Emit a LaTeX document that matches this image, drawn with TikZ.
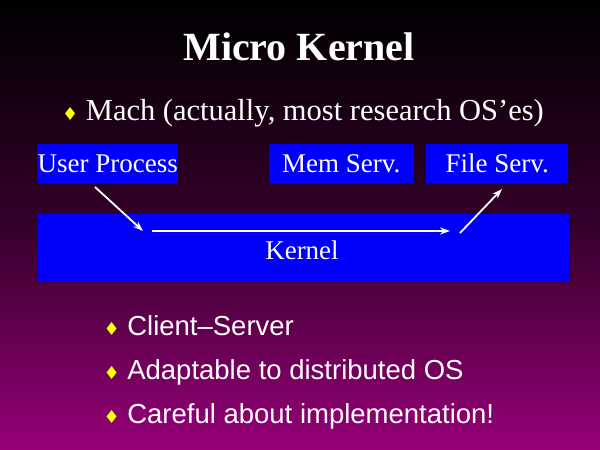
\documentclass[tikz,border=0pt]{standalone}
\usepackage{fontspec}
\setmainfont{Liberation Serif}
\newfontfamily\bsans{Liberation Sans}
\newfontfamily\djvfont{DejaVu Sans}
\usetikzlibrary{arrows.meta}
\definecolor{bxblue}{RGB}{0,0,250}
\definecolor{botpurple}{RGB}{150,0,120}
\definecolor{bulyel}{RGB}{255,255,0}
\tikzset{
 box/.style={fill=bxblue,draw=none,inner sep=0pt,anchor=north west,text=white,font=\fontsize{27}{27}\selectfont},
 arr/.style={draw=white,line width=1.8pt,-{Stealth[length=10pt,width=7pt]}},
 bul/.style={anchor=west,text=white,font=\bsans\fontsize{27.5}{27.5}\selectfont},
}
\newcommand{\dia}{{\color{bulyel}\djvfont\fontsize{18}{18}\selectfont ♦}}
\begin{document}
\begin{tikzpicture}[x=1pt,y=-1pt]
\shade[top color=black,bottom color=botpurple,middle color=black!50!botpurple!70!black] (0,0) rectangle (600,450);
\useasboundingbox (0,0) rectangle (600,450);
\node[text=white,font=\bfseries\fontsize{40}{40}\selectfont] (title) at (299,47) {Micro Kernel};
\node[text=white,font=\fontsize{30.5}{30.5}\selectfont] (mach) at (303,113) {\dia\ Mach (actually, most research OS'es)};
\node[box,minimum width=141,minimum height=39] (up) at (37,144) {User Process};
\node[box,minimum width=144,minimum height=39] (mem) at (269,144) {Mem Serv.};
\node[box,minimum width=142,minimum height=39] (fs) at (426,144) {File Serv.};
\node[box,minimum width=532,minimum height=68] (k) at (37,214) {};
\node[text=white,font=\fontsize{27}{27}\selectfont] (kl) at (302,250) {Kernel};
\coordinate (a0) at (95,187);
\coordinate (a1) at (143,231);
\coordinate (a2) at (152,231);
\coordinate (a3) at (450,231);
\coordinate (a4) at (460,233);
\coordinate (a5) at (502,189);
\draw[arr] (a0) -- (a1);
\draw[arr] (a2) -- (a3);
\draw[arr] (a4) -- (a5);
\node[bul] (b1) at (100,326) {\dia\ Client\textendash Server};
\node[bul] (b2) at (100,372) {\dia\ Adaptable to distributed OS};
\node[bul] (b3) at (100,416) {\dia\ Careful about implementation!};
\end{tikzpicture}
\end{document}
